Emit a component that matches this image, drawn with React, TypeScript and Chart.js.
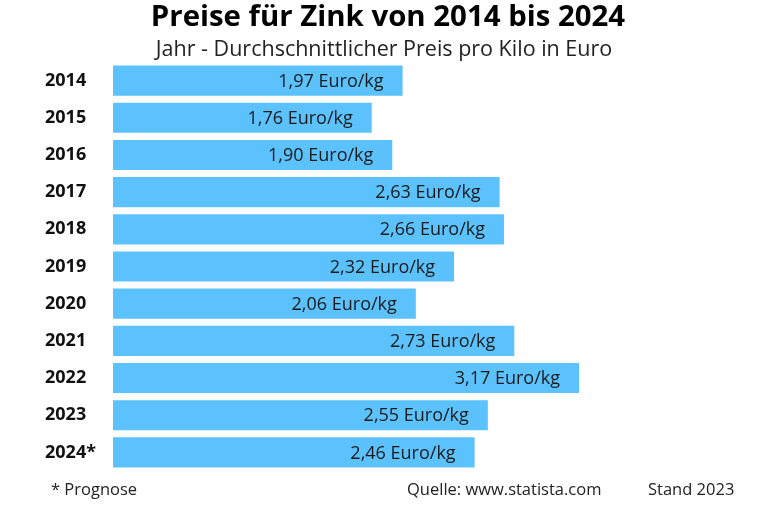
import React, { useEffect, useRef } from "react";
import { Chart, registerables } from "chart.js";

Chart.register(...registerables);

const years = ["2014", "2015", "2016", "2017", "2018", "2019", "2020", "2021", "2022", "2023", "2024*"];
const prices = [1.97, 1.76, 1.9, 2.63, 2.66, 2.32, 2.06, 2.73, 3.17, 2.55, 2.46];
const titleText = "Preise für Zink von 2014 bis 2024";
const subtitleText = "Jahr - Durchschnittlicher Preis pro Kilo in Euro";
const footerLeft = "* Prognose";
const footerSource = "Quelle: www.statista.com";
const footerStand = "Stand 2023";
const unit = " Euro/kg";

const FONT = '"Open Sans", "Noto Sans", sans-serif';

const textPlugin = {
  id: "textPlugin",
  afterDatasetsDraw(chart: any) {
    const ctx = chart.ctx;
    ctx.save();
    // bar labels
    const meta = chart.getDatasetMeta(0);
    ctx.font = `18px ${FONT}`;
    ctx.fillStyle = "#1a1a1a";
    ctx.textAlign = "right";
    ctx.textBaseline = "middle";
    meta.data.forEach((el: any, i: number) => {
      const label = prices[i].toFixed(2).replace(".", ",") + unit;
      ctx.fillText(label, el.x - 19, el.y + 1);
    });
    // title
    ctx.textAlign = "center";
    ctx.fillStyle = "#000";
    ctx.font = `bold 29.4px ${FONT}`;
    ctx.fillText(titleText, 388, 18);
    ctx.fillStyle = "#222";
    ctx.font = `21.5px ${FONT}`;
    ctx.fillText(subtitleText, 384, 50);
    // footer
    ctx.font = `16.5px ${FONT}`;
    ctx.fillStyle = "#222";
    ctx.textAlign = "left";
    ctx.fillText(footerLeft, 51, 490);
    ctx.fillText(footerSource, 407, 490);
    ctx.fillText(footerStand, 648, 490);
    ctx.restore();
  },
};

export default function App() {
  const ref = useRef<HTMLCanvasElement | null>(null);
  useEffect(() => {
    if (!ref.current) return;
    const chart = new Chart(ref.current, {
      type: "bar",
      data: {
        labels: years,
        datasets: [
          {
            data: prices,
            backgroundColor: "#5BC2FE",
            borderWidth: 0,
            barPercentage: 0.81,
            categoryPercentage: 1,
          },
        ],
      },
      options: {
        indexAxis: "y",
        animation: false,
        responsive: false,
        layout: { padding: { left: 45, top: 62, bottom: 41, right: 67 } },
        plugins: {
          legend: { display: false },
          title: { display: false },
          tooltip: { enabled: false },
        },
        scales: {
          x: { display: false, min: 0, max: 4 },
          y: {
            grid: { display: false },
            border: { display: false },
            afterFit(scale: any) {
              scale.width = 68;
            },
            ticks: {
              crossAlign: "far",
              color: "#111",
              font: { family: FONT, size: 18, weight: "bold" },
            },
          },
        },
      },
      plugins: [textPlugin],
    });
    return () => chart.destroy();
  }, []);
  return (
    <div style={{ position: "fixed", left: 0, top: 0, width: 768, height: 512, background: "#fff" }}>
      <canvas ref={ref} width={768} height={512} />
    </div>
  );
}
